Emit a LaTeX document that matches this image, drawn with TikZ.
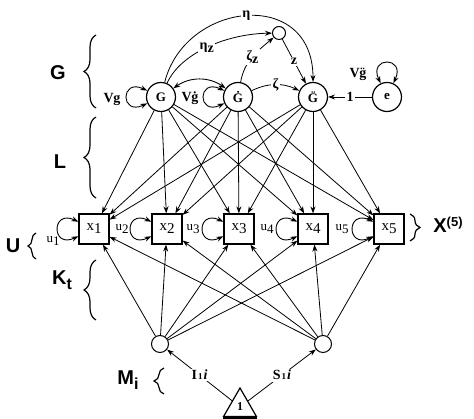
\documentclass[tikz,border=0pt]{standalone}
\usepackage{fontspec}
\setmainfont{Liberation Serif}
\setsansfont{Liberation Sans}
\usetikzlibrary{arrows.meta,shapes.geometric,decorations.pathreplacing}

\newcommand{\lowr}[1]{\raisebox{-0.45ex}{#1}}

\begin{document}
\begin{tikzpicture}[x=1pt,y=1pt,
    lat/.style={circle,draw,line width=1.2pt,minimum size=29pt,inner sep=0pt,
      font=\fontsize{13}{13}\selectfont\bfseries},
    obs/.style={rectangle,draw,line width=1.2pt,minimum size=30pt,inner sep=0pt,
      font=\fontsize{15}{15}\selectfont},
    dot/.style={circle,draw,line width=1pt,minimum size=13pt,inner sep=0pt},
    arr/.style={-{Stealth[length=7pt,width=5pt]},line width=0.8pt},
    dblarr/.style={{Stealth[length=7pt,width=5pt]}-{Stealth[length=7pt,width=5pt]},line width=0.9pt},
    lbl/.style={fill=white,inner sep=1.5pt,font=\fontsize{14}{14}\selectfont\bfseries},
    ulbl/.style={font=\fontsize{13}{13}\selectfont},
    big/.style={font=\fontsize{20}{20}\selectfont\sffamily\bfseries},
    brc/.style={decorate,decoration={brace,amplitude=#1},line width=1.2pt},
    brc/.default=12pt]
  \useasboundingbox (0,0) rectangle (474,419);
  % growth factors
  \node[lat] (G) at (161,322) {G};
  \node[lat] (Gd) at (238,322) {\.{G}};
  \node[lat] (Gdd) at (313,322) {\"{G}};
  \node[lat] (e) at (387,322) {e};
  \node[dot] (z) at (279,386) {};
  % indicators
  \foreach \i/\xx in {1/94,2/167,3/239,4/313,5/389}
    \node[obs] (x\i) at (\xx,190) {x\lowr{\i}};
  % level, slope and constant
  \node[dot,minimum size=17pt] (m1) at (160,75) {};
  \node[dot,minimum size=17pt] (m2) at (323,75) {};
  \node[draw,regular polygon,regular polygon sides=3,minimum size=38pt,inner sep=0pt,
    line width=1.2pt,font=\fontsize{12}{12}\selectfont\bfseries] (tri) at (240,12) {1};
  \draw[line width=3pt] (tri.corner 2) -- (tri.corner 3);

  % loadings
  \foreach \s in {G,Gd,Gdd}
    \foreach \t in {1,...,5}
      \draw[arr] (\s) -- (x\t);
  \foreach \s in {m1,m2}
    \foreach \t in {1,...,5}
      \draw[arr] (\s) -- (x\t);

  % variances
  \draw[dblarr] (G) to[out=155,in=205,distance=30pt] (G);
  \draw[dblarr] (Gd) to[out=155,in=205,distance=30pt] (Gd);
  \draw[dblarr] (e) to[out=115,in=65,distance=30pt] (e);
  \foreach \i in {1,...,5}
    \draw[dblarr] (x\i) to[out=155,in=205,distance=30pt] (x\i);

  % paths between factors
  \draw[dblarr] (G) to[bend left=35] (Gd);
  \draw[arr] (G) .. controls (185,418) and (313,432) .. (Gdd) node[lbl,pos=0.5] {η};
  \draw[arr] (G) .. controls (180,365) and (225,385) .. (z) node[lbl,pos=0.5] {η\lowr{z}};
  \draw[arr] (Gd) to[out=80,in=220] node[lbl] {ζ\lowr{z}} (z);
  \draw[arr] (z) -- node[lbl] {z} (Gdd);
  \draw[arr] (Gd) to[bend left=25] node[lbl] {ζ} (Gdd);
  \draw[arr] (e) -- node[lbl] {1} (Gdd);
  \draw[arr] (tri) -- node[lbl] {I\kern1pt{\small 1}\kern1pt\textit{i}} (m1);
  \draw[arr] (tri) -- node[lbl] {S\kern1pt{\small 1}\kern1pt\textit{i}} (m2);

  % variance labels
  \node[lbl] (vg) at (112,320) {V\kern-0.5pt g};
  \node[lbl] (vgd) at (190,321) {V\kern-0.5pt\.{g}};
  \node[lbl] (vgdd) at (358,345) {V\kern-0.5pt\"{g}};
  \node[ulbl] (u1) at (53,178) {u\lowr{1}};
  \foreach \i/\xx in {2/122,3/193,4/267,5/342}
    \node[ulbl] (u\i) at (\xx,190) {u\lowr{\i}};

  % braces
  \draw[brc] (96,311) -- (96,384);
  \node[big] (labG) at (58,346) {G};
  \draw[brc] (96,221) -- (96,302);
  \node[big] (labL) at (60,257) {L};
  \draw[brc=8pt] (36,160) -- (36,186);
  \node[big] (labU) at (13,173) {U};
  \draw[brc] (96,99) -- (96,159);
  \node[big] (labK) at (62,139) {K\raisebox{-5pt}{\fontsize{16}{16}\selectfont t}};
  \draw[brc=10pt] (164,25) -- (164,51);
  \node[big] (labM) at (128,39) {M\raisebox{-5pt}{\fontsize{16}{16}\selectfont i}};
  \draw[brc=10pt] (410,205) -- (410,178);
  \node[big] (labX) at (448,194) {X\raisebox{6pt}{\fontsize{13}{13}\selectfont(5)}};
\end{tikzpicture}
\end{document}
